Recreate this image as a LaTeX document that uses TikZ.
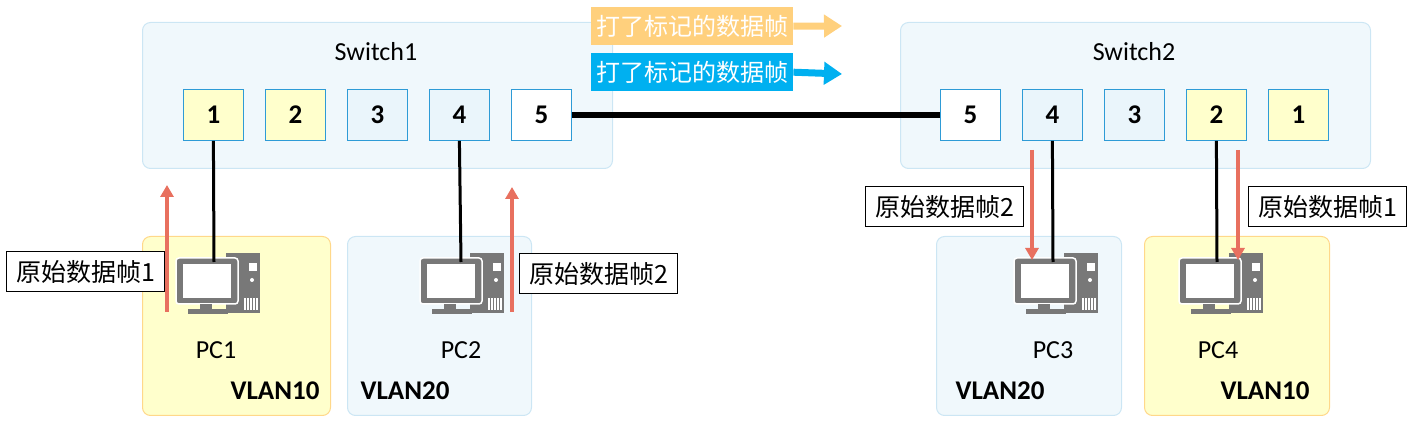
\documentclass[tikz,border=0pt]{standalone}
\usepackage{fontspec}
\setmainfont{Carlito}
\newfontfamily\cjk{Noto Sans CJK SC}
\usetikzlibrary{arrows.meta}
\definecolor{swfill}{HTML}{F0F8FC}
\definecolor{swline}{HTML}{CCE6F4}
\definecolor{yfill}{HTML}{FFFFCC}
\definecolor{yline}{HTML}{FFD88A}
\definecolor{bfill}{HTML}{EAF5FB}
\definecolor{pline}{HTML}{2E9BD6}
\definecolor{redar}{HTML}{E8705F}
\definecolor{org}{HTML}{FFD07D}
\definecolor{cyan2}{HTML}{00B0F0}
\definecolor{pcgray}{HTML}{787878}
\begin{document}
\begin{tikzpicture}[x=1pt,y=-1pt,
  swbox/.style={draw=swline,fill=swfill,rounded corners=8pt,line width=1pt},
  vbox/.style={draw=#1,rounded corners=8pt,line width=1pt},
  port/.style={draw=pline,line width=0.8pt,minimum width=60pt,minimum height=51pt,anchor=north west,inner sep=0pt,font=\fontsize{27}{29}\selectfont\bfseries},
  lbl/.style={font=\fontsize{26}{28}\selectfont},
  vl/.style={font=\fontsize{27}{29}\selectfont\bfseries},
  capbox/.style={draw,line width=1.2pt,fill=white,minimum width=158pt,minimum height=40pt,inner sep=0pt,anchor=north west,font=\cjk\fontsize{25}{27}\selectfont},
  tagbox/.style={minimum width=202pt,minimum height=38pt,inner sep=0pt,anchor=north west,text=white,font=\cjk\fontsize{24}{26}\selectfont},
  redarrow/.style={draw=redar,line width=4pt,-{Triangle[length=12pt,width=13pt]}},
  wire/.style={line width=3pt}
]
\useasboundingbox (0,0) rectangle (1414,427);
\tikzset{pc/.pic={
  \fill[pcgray] (48,-5) rectangle (82,55);
  \fill[white] (71,5) rectangle (79,13);
  \fill[white] (74,22) circle (2pt);
  \foreach \i in {0,1,2,3,4}{\fill[white] (66+\i*3,40) rectangle (67.5+\i*3,52);}
  \fill[pcgray,draw=white,line width=1.5pt,rounded corners=3pt] (-2,0) rectangle (60,46);
  \fill[white] (5,6) rectangle (53,40);
  \fill[pcgray] (22,46) rectangle (34,51);
  \fill[pcgray] (10,51) rectangle (50,56);
}}
% switches
\node[swbox,minimum width=470pt,minimum height=146pt,anchor=north west] (sw1) at (142,22) {};
\node[swbox,minimum width=470pt,minimum height=146pt,anchor=north west] (sw2) at (900,22) {};
\node[lbl] (s1l) at (376,52) {Switch1};
\node[lbl] (s2l) at (1134,52) {Switch2};
\node[port,fill=yfill] (a1) at (183,89) {1};
\node[port,fill=yfill] (a2) at (265,89) {2};
\node[port,fill=bfill] (a3) at (347,89) {3};
\node[port,fill=bfill] (a4) at (429,89) {4};
\node[port,fill=white] (a5) at (511,89) {5};
\node[port,fill=white] (b5) at (940,89) {5};
\node[port,fill=bfill] (b4) at (1022,89) {4};
\node[port,fill=bfill] (b3) at (1104,89) {3};
\node[port,fill=yfill] (b2) at (1186,89) {2};
\node[port,fill=yfill] (b1) at (1268,89) {1};
\draw[line width=6pt] (a5.east) -- (b5.west);
% tags
\node[tagbox,fill=org] (t1) at (591,7) {打了标记的数据帧};
\node[tagbox,fill=cyan2] (t2) at (591,53) {打了标记的数据帧};
\coordinate (t1e) at (842,26);
\coordinate (t2e) at (842,74);
\draw[org,line width=7pt,-{Triangle[length=18pt,width=22pt]}] (t1.east) -- (t1e);
\draw[cyan2,line width=7pt,-{Triangle[length=18pt,width=22pt]}] (t2.east) -- (t2e);
% vlan boxes
\node[vbox=yline,fill=yfill,minimum width=188pt,minimum height=179pt,anchor=north west] (v1) at (142,236) {};
\node[vbox=swline,fill=swfill,minimum width=184pt,minimum height=179pt,anchor=north west] (v2) at (347,236) {};
\node[vbox=swline,fill=swfill,minimum width=185pt,minimum height=179pt,anchor=north west] (v3) at (936,236) {};
\node[vbox=yline,fill=yfill,minimum width=185pt,minimum height=179pt,anchor=north west] (v4) at (1144,236) {};
% PCs
\pic at (178,258) {pc};
\pic at (422,258) {pc};
\pic at (1016,258) {pc};
\pic at (1181,258) {pc};
\coordinate (p1) at (214,262);
\coordinate (p2) at (461,262);
\coordinate (p3) at (1053,262);
\coordinate (p4) at (1217,262);
\draw[wire] (a1.south) -- (p1);
\draw[wire] (a4.south) -- (p2);
\draw[wire] (b4.south) -- (p3);
\draw[wire] (b2.south) -- (p4);
\node[lbl] (n1) at (216,350) {PC1};
\node[lbl] (n2) at (461,350) {PC2};
\node[lbl] (n3) at (1053,350) {PC3};
\node[lbl] (n4) at (1218,350) {PC4};
\node[vl] (l1) at (275,391) {VLAN10};
\node[vl] (l2) at (405,391) {VLAN20};
\node[vl] (l3) at (1000,391) {VLAN20};
\node[vl] (l4) at (1265,391) {VLAN10};
% red arrows
\coordinate (r1s) at (167,312); \coordinate (r1e) at (167,185);
\coordinate (r2s) at (512,312); \coordinate (r2e) at (512,187);
\coordinate (r3s) at (1032,150); \coordinate (r3e) at (1032,260);
\coordinate (r4s) at (1238,150); \coordinate (r4e) at (1238,260);
\draw[redarrow] (r1s) -- (r1e);
\draw[redarrow] (r2s) -- (r2e);
\draw[redarrow] (r3s) -- (r3e);
\draw[redarrow] (r4s) -- (r4e);
% captions
\node[capbox] (c1) at (6,251) {原始数据帧1};
\node[capbox] (c2) at (519,253) {原始数据帧2};
\node[capbox] (c3) at (865,186) {原始数据帧2};
\node[capbox] (c4) at (1248,186) {原始数据帧1};
\end{tikzpicture}
\end{document}
